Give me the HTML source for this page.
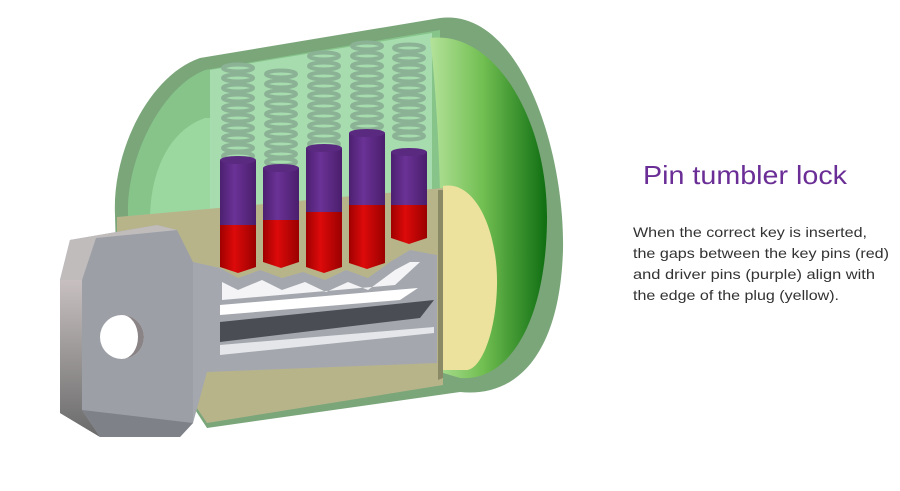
<!DOCTYPE html>
<html><head><meta charset="utf-8"><style>
html,body{margin:0;padding:0;background:#fff;}
svg{display:block;}
</style></head><body>
<svg width="900" height="491" viewBox="0 0 900 491" xmlns="http://www.w3.org/2000/svg">
<defs>
<linearGradient id="face" x1="0" x2="1" y1="0" y2="0">
<stop offset="0" stop-color="#b4e29a"/><stop offset="0.45" stop-color="#72bf52"/><stop offset="1" stop-color="#0f6e12"/>
</linearGradient>
<linearGradient id="purp" x1="0" x2="1"><stop offset="0" stop-color="#4c2070"/><stop offset="0.4" stop-color="#6a3296"/><stop offset="1" stop-color="#4a1e6c"/></linearGradient>
<linearGradient id="red" x1="0" x2="1"><stop offset="0" stop-color="#a00000"/><stop offset="0.4" stop-color="#dd0a0a"/><stop offset="1" stop-color="#9a0000"/></linearGradient>
<linearGradient id="bow" x1="0" x2="0" y1="0" y2="1"><stop offset="0" stop-color="#c8c0c0"/><stop offset="1" stop-color="#6a6a6a"/></linearGradient>
</defs>
<!-- outer housing -->
<path d="M115,215 C112,150 150,75 200,58 L440,18 C520,8 565,150 563,250 C560,350 520,398 460,392 L207,428 L117,290 Z" fill="#7aa67a"/>
<path d="M128,215 C126,160 160,88 205,70 L440,30 L440,380 L207,418 L128,290 Z" fill="#86c48a"/>
<path d="M150,220 C150,170 170,130 205,118 L210,118 L210,220 Z" fill="#9ad8a0"/>
<path d="M210,70 L432,33 L432,220 L210,220 Z" fill="#a6dcae"/>
<!-- right face -->
<path d="M430,38 C495,30 548,120 547,220 C546,320 510,382 460,378 L440,372 L440,190 C438,120 434,70 430,38 Z" fill="url(#face)"/>
<!-- plug -->
<path d="M117,217 L443,188 L443,385 L207,423 L117,290 Z" fill="#b8b48a"/>
<path d="M438,190 L443,190 L443,378 L438,380 Z" fill="#8a8a66"/>
<path d="M443,186 C475,180 498,230 497,285 C496,335 480,372 465,370 L443,370 Z" fill="#ece29e"/>
<!-- springs -->
<g fill="none" stroke="#8cb296" stroke-width="4">
<g id="sp">
<ellipse cx="238" cy="68" rx="15" ry="3.5"/><ellipse cx="238" cy="78" rx="15" ry="3.5"/><ellipse cx="238" cy="88" rx="15" ry="3.5"/><ellipse cx="238" cy="98" rx="15" ry="3.5"/><ellipse cx="238" cy="108" rx="15" ry="3.5"/><ellipse cx="238" cy="118" rx="15" ry="3.5"/><ellipse cx="238" cy="128" rx="15" ry="3.5"/><ellipse cx="238" cy="138" rx="15" ry="3.5"/><ellipse cx="238" cy="148" rx="15" ry="3.5"/><ellipse cx="238" cy="156" rx="15" ry="3.5"/>
</g>
<use href="#sp" x="43" y="6"/>
<use href="#sp" x="86" y="-12"/>
<use href="#sp" x="129" y="-22"/>
<use href="#sp" x="171" y="-20"/>
</g>
<!-- pins -->
<g>
<rect x="220" y="160" width="36" height="65" fill="url(#purp)"/><path d="M220,225 h36 v42 l-18,6 l-18,-6z" fill="url(#red)"/><ellipse cx="238" cy="160" rx="18" ry="4" fill="#5a2a80"/>
<rect x="263" y="168" width="36" height="52" fill="url(#purp)"/><path d="M263,220 h36 v42 l-18,6 l-18,-6z" fill="url(#red)"/><ellipse cx="281" cy="168" rx="18" ry="4" fill="#5a2a80"/>
<rect x="306" y="148" width="36" height="64" fill="url(#purp)"/><path d="M306,212 h36 v55 l-18,6 l-18,-6z" fill="url(#red)"/><ellipse cx="324" cy="148" rx="18" ry="4" fill="#5a2a80"/>
<rect x="349" y="133" width="36" height="72" fill="url(#purp)"/><path d="M349,205 h36 v58 l-18,6 l-18,-6z" fill="url(#red)"/><ellipse cx="367" cy="133" rx="18" ry="4" fill="#5a2a80"/>
<rect x="391" y="152" width="36" height="53" fill="url(#purp)"/><path d="M391,205 h36 v33 l-18,6 l-18,-6z" fill="url(#red)"/><ellipse cx="409" cy="152" rx="18" ry="4" fill="#5a2a80"/>
</g>
<!-- key -->
<path d="M193,262 L220,268 L238,278 L260,270 L282,278 L303,272 L325,280 L346,270 L368,278 L390,262 L410,250 L437,255 L437,363 L207,372 L193,423 Z" fill="#a4a8ae"/>
<path d="M222,282 L238,290 L262,280 L282,290 L305,282 L326,292 L348,282 L368,290 L395,270 L410,262 L420,262 L395,285 L222,300 Z" fill="#f4f4f6"/>
<path d="M220,305 L418,288 L400,300 L220,315 Z" fill="#ffffff"/>
<path d="M220,322 L434,300 L420,318 L220,342 Z" fill="#4a4e54"/>
<path d="M220,345 L434,327 L434,333 L220,355 Z" fill="#e4e6ea"/>
<path d="M60,280 L70,240 L157,225 L177,230 L193,262 L193,423 L180,437 L100,437 L60,413 Z" fill="#9ca0a6"/>
<path d="M60,280 L70,240 L157,225 L177,230 L96,238 L82,280 Z" fill="#c0bcbc"/>
<path d="M60,280 L82,280 L82,410 L100,437 L60,413 Z" fill="url(#bow)"/>
<path d="M82,410 L100,437 L180,437 L193,423 Z" fill="#7e8288"/>
<circle cx="122" cy="337" r="22" fill="#ffffff"/>
<path d="M122,315 A22,22 0 0 1 122,359 A16,22 0 0 0 122,315 Z" fill="#8a8486"/>
<!-- text -->
<text x="643" y="184" font-family="Liberation Sans, sans-serif" font-size="26" fill="#6a2e96" textLength="204" lengthAdjust="spacingAndGlyphs">Pin tumbler lock</text>
<g font-family="Liberation Sans, sans-serif" font-size="14" fill="#333">
<text x="633" y="237" textLength="234" lengthAdjust="spacingAndGlyphs">When the correct key is inserted,</text>
<text x="633" y="258" textLength="256" lengthAdjust="spacingAndGlyphs">the gaps between the key pins (red)</text>
<text x="633" y="279" textLength="242" lengthAdjust="spacingAndGlyphs">and driver pins (purple) align with</text>
<text x="633" y="300" textLength="206" lengthAdjust="spacingAndGlyphs">the edge of the plug (yellow).</text>
</g>
</svg>
</body></html>
